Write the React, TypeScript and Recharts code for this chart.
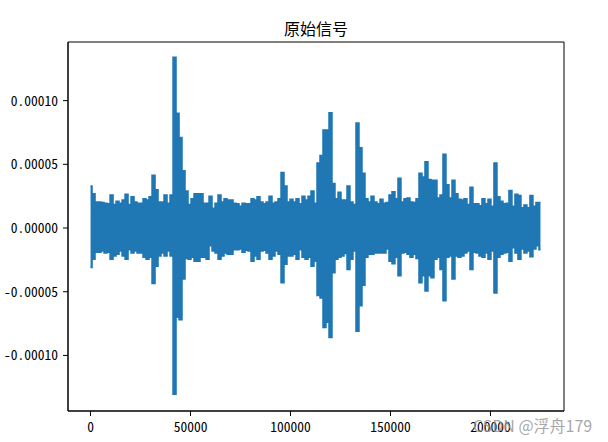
import React from 'react';
import { AreaChart, Area, XAxis, YAxis, ReferenceArea } from 'recharts';

// envelope of the raw signal, every 1500 samples (units of 1e-5)
const STEP = 1500;
const SCALE = 1e-5;

const upper = [
  3.3, 2.7, 2.05, 2.05, 2.0, 1.95, 1.9, 2.6, 1.85, 2.1,
  1.95, 2.2, 2.65, 1.85, 2.45, 2.05, 1.95, 1.95, 2.3, 2.2,
  2.45, 4.15, 3.0, 2.05, 2.05, 2.6, 1.95, 2.6, 13.4, 9.0,
  7.1, 4.5, 2.9, 1.85, 2.3, 2.7, 2.7, 2.7, 1.95, 1.95,
  2.5, 1.55, 1.95, 2.6, 2.05, 2.3, 2.2, 2.2, 1.95, 1.9,
  1.7, 1.95, 1.9, 1.9, 2.3, 2.2, 2.45, 2.05, 1.9, 2.05,
  2.5, 1.95, 2.05, 2.3, 4.35, 3.3, 2.05, 2.25, 2.05, 2.3,
  1.9, 2.5, 2.2, 2.5, 2.9, 1.95, 5.1, 5.7, 7.7, 7.7,
  9.05, 3.5, 2.3, 2.8, 2.2, 2.2, 3.3, 2.05, 1.85, 8.25,
  6.3, 4.3, 2.3, 2.05, 2.5, 2.05, 1.9, 2.25, 1.95, 2.0,
  2.6, 2.85, 2.3, 3.9, 2.05, 2.3, 2.35, 2.05, 2.0, 2.3,
  4.3, 4.0, 5.2, 3.8, 3.75, 3.75, 2.35, 2.6, 5.8, 3.4,
  2.35, 3.75, 2.7, 2.25, 2.2, 2.3, 1.85, 3.2, 1.9, 1.9,
  1.75, 2.3, 1.9, 2.25, 1.7, 5.1, 2.45, 2.1, 1.9, 1.95,
  2.95, 1.7, 2.65, 2.55, 1.6, 1.8, 1.6, 2.55, 1.7, 2.0, 2.0,
];

const lower = [
  -3.1, -2.45, -1.9, -1.9, -1.8, -1.95, -1.9, -2.45, -2.2, -2.05,
  -1.8, -2.2, -2.45, -1.7, -1.95, -1.8, -1.95, -1.95, -2.3, -2.45,
  -2.3, -4.35, -3.0, -2.2, -1.95, -2.2, -1.8, -2.2, -13.05, -7.0,
  -7.2, -4.0, -2.4, -2.45, -2.3, -2.6, -2.6, -2.3, -2.3, -2.45,
  -1.4, -1.8, -1.95, -2.45, -2.2, -1.95, -2.05, -2.05, -1.7, -1.7,
  -1.65, -1.9, -1.75, -1.8, -2.6, -2.2, -2.45, -1.8, -1.75, -1.95,
  -2.45, -2.2, -1.8, -2.05, -4.3, -2.85, -2.2, -2.2, -2.05, -2.45,
  -1.7, -2.3, -2.45, -2.3, -3.0, -2.6, -5.3, -5.5, -7.8, -7.4,
  -8.6, -3.5, -2.45, -2.3, -2.2, -2.0, -3.25, -2.45, -1.8, -8.1,
  -6.1, -4.5, -2.3, -2.05, -2.05, -1.95, -1.95, -1.95, -1.95, -1.65,
  -2.6, -2.8, -2.3, -3.75, -1.95, -1.9, -2.05, -2.3, -2.05, -2.4,
  -4.3, -3.75, -4.95, -3.75, -3.9, -2.45, -2.3, -3.25, -5.7, -2.3,
  -2.2, -4.0, -2.2, -2.3, -2.2, -1.95, -1.8, -3.25, -1.9, -1.95,
  -2.2, -2.3, -1.95, -2.45, -1.8, -5.1, -2.3, -2.05, -1.95, -1.9,
  -2.6, -1.55, -1.95, -2.45, -1.65, -1.95, -1.8, -2.25, -1.65, -1.4, -1.7,
];

const xTicks = [0, 50000, 100000, 150000, 200000];
const yTicks = [-0.0001, -0.00005, 0, 0.00005, 0.0001];
const xDomain = [-11275, 236775];
const yDomain = [-0.0001436, 0.000146];

const data = upper.map((u, i) => ({
  n: i * STEP,
  band: [lower[i] * SCALE, u * SCALE],
}));

const FONT = '"Noto Sans CJK SC", "Noto Sans", sans-serif';
const tickText = { fontFeatureSettings: '"hwid"' } as React.CSSProperties;

const XTick = (props: any) => {
  const { x, y, payload } = props;
  return (
    <text x={x} y={y} dy={11} textAnchor="middle" fontSize={13.5} fontFamily={FONT} fill="#000" style={tickText}>
      {payload.value}
    </text>
  );
};

const YTick = (props: any) => {
  const { x, y, payload } = props;
  return (
    <text x={x} y={y} dy={5} textAnchor="end" fontSize={13.5} fontFamily={FONT} fill="#000" style={tickText}>
      {Number(payload.value).toFixed(5)}
    </text>
  );
};

export default function App() {
  return (
    <div style={{ position: 'absolute', left: 0, top: 0, width: 608, height: 442, background: '#fff' }}>
      <div
        style={{
          position: 'absolute', left: 0, top: 20, width: 632, textAlign: 'center',
          fontFamily: FONT, fontSize: 16, lineHeight: '16px', color: '#000',
        }}
      >
        原始信号
      </div>
      <AreaChart width={608} height={442} data={data} margin={{ top: 42, right: 44, bottom: 0, left: 8 }}>
        <XAxis
          dataKey="n"
          type="number"
          domain={xDomain}
          allowDataOverflow
          ticks={xTicks}
          height={31}
          tickSize={5}
          tickMargin={5}
          stroke="#000"
          tick={<XTick />}
        />
        <YAxis
          type="number"
          domain={yDomain}
          allowDataOverflow
          ticks={yTicks}
          width={60}
          tickSize={5}
          tickMargin={5}
          stroke="#000"
          tick={<YTick />}
        />
        <Area
          dataKey="band"
          type="step"
          stroke="#1f77b4"
          strokeWidth={1.5}
          fill="#1f77b4"
          fillOpacity={1}
          dot={false}
          activeDot={false}
          isAnimationActive={false}
        />
        {/* axes frame, like matplotlib's four spines */}
        <ReferenceArea
          x1={xDomain[0]}
          x2={xDomain[1]}
          y1={yDomain[0]}
          y2={yDomain[1]}
          fill="none"
          stroke="#000"
          strokeWidth={1}
          ifOverflow="visible"
        />
      </AreaChart>
      <div
        style={{
          position: 'absolute', left: 473, top: 416, fontFamily: FONT, fontSize: 16,
          lineHeight: '18px', color: 'rgba(150,150,150,0.85)', whiteSpace: 'nowrap',
        }}
      >
        CSDN @浮舟179
      </div>
    </div>
  );
}
